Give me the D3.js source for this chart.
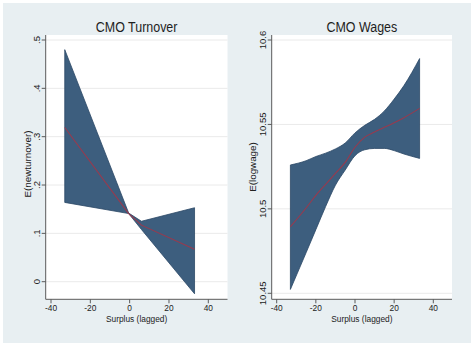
<!DOCTYPE html>
<html>
<head>
<meta charset="utf-8">
<script src="https://cdn.jsdelivr.net/npm/d3@7"></script>
<style>
  body { margin: 0; background: #fff; }
  svg { display: block; font-family: "Liberation Sans", Arial, sans-serif; }
</style>
</head>
<body>
<div id="chart"></div>
<script>
// ---- data ----
const turnoverX = [-33, -0.5, 6, 33];
const turnoverPred = [0.319, 0.141, 0.117, 0.067];
const turnoverLo = [0.164, 0.141, 0.108, -0.025];
const turnoverHi = [0.480, 0.142, 0.125, 0.153];
const turnoverTicks = [0, 0.1, 0.2, 0.3, 0.4, 0.5];
const turnoverTickLabels = ["0", ".1", ".2", ".3", ".4", ".5"];

const wageX = [-33, -25, -20, -15, -10, -5, 0, 5, 10, 15, 20, 25, 33];
const wagePred = [10.4894, 10.5005, 10.508, 10.5145, 10.521, 10.5275, 10.5365, 10.5425, 10.5455, 10.5483, 10.551, 10.554, 10.5595];
const wageLo = [10.4523, 10.474, 10.4877, 10.5014, 10.514, 10.523, 10.5315, 10.535, 10.5358, 10.5358, 10.5345, 10.5325, 10.5299];
const wageHi = [10.526, 10.5285, 10.531, 10.533, 10.5355, 10.539, 10.545, 10.5495, 10.553, 10.558, 10.565, 10.573, 10.589];
const wageTicks = [10.45, 10.5, 10.55, 10.6];
const wageTickLabels = ["10.45", "10.5", "10.55", "10.6"];

const xTicks = [-40, -20, 0, 20, 40];

const W = 474, H = 346;
const bandFill = "#3d5e7e";
const bandStroke = "#2b4866";
const predColor = "#983a4e";
const squeeze = 0.88; // picture is a bit narrower than tall

const svg = d3.select("#chart").append("svg")
    .attr("width", W)
    .attr("height", H);

// outer graph region
svg.append("rect")
    .attr("x", 3).attr("y", 3)
    .attr("width", W - 6).attr("height", H - 6)
    .attr("fill", "#e8eff2");

const panels = [
    {
        title: "CMO Turnover", yTitle: "E(newturnover)",
        left: 45.7, right: 227.5, top: 35, bottom: 299.3,
        xRange: [51, 208.3], yDomain: [0, 0.5], yRange: [281.7, 40],
        xs: turnoverX, pred: turnoverPred, lo: turnoverLo, hi: turnoverHi,
        yTicks: turnoverTicks, yLabels: turnoverTickLabels,
        yTitleX: 31, yTitleY: 164, curve: d3.curveLinear
    },
    {
        title: "CMO Wages", yTitle: "E(logwage)",
        left: 271.7, right: 452, top: 35, bottom: 299.3,
        xRange: [276.7, 433.3], yDomain: [10.45, 10.6], yRange: [293.3, 40],
        xs: wageX, pred: wagePred, lo: wageLo, hi: wageHi,
        yTicks: wageTicks, yLabels: wageTickLabels,
        yTitleX: 255.5, yTitleY: 167, curve: d3.curveMonotoneX
    }
];

panels.forEach(p => {
    const x = d3.scaleLinear().domain([-40, 40]).range(p.xRange);
    const y = d3.scaleLinear().domain(p.yDomain).range(p.yRange);
    const g = svg.append("g");

    // plot region
    g.append("rect")
        .attr("x", p.left).attr("y", p.top)
        .attr("width", p.right - p.left).attr("height", p.bottom - p.top)
        .attr("fill", "#fff");

    // gridlines
    g.selectAll(".grid")
        .data(p.yTicks)
        .join("line")
        .attr("x1", p.left).attr("x2", p.right)
        .attr("y1", d => y(d)).attr("y2", d => y(d))
        .attr("stroke", "#eaeaea")
        .attr("stroke-width", 1);

    // confidence band
    const pts = p.xs.map((v, i) => ({ x: v, lo: p.lo[i], hi: p.hi[i], m: p.pred[i] }));
    const area = d3.area()
        .x(d => x(d.x))
        .y0(d => y(d.lo))
        .y1(d => y(d.hi))
        .curve(p.curve);
    g.append("path")
        .datum(pts)
        .attr("d", area)
        .attr("fill", bandFill)
        .attr("stroke", bandStroke)
        .attr("stroke-width", 0.8);

    // predicted line
    const line = d3.line()
        .x(d => x(d.x))
        .y(d => y(d.m))
        .curve(p.curve);
    g.append("path")
        .datum(pts)
        .attr("d", line)
        .attr("fill", "none")
        .attr("stroke", predColor)
        .attr("stroke-width", 1.1);

    // axes
    const axisColor = "#5a5a5a";
    g.append("line")
        .attr("x1", p.left).attr("x2", p.left)
        .attr("y1", p.top).attr("y2", p.bottom)
        .attr("stroke", axisColor);
    g.append("line")
        .attr("x1", p.left).attr("x2", p.right)
        .attr("y1", p.bottom).attr("y2", p.bottom)
        .attr("stroke", axisColor);

    // x ticks
    g.selectAll(".xt")
        .data(xTicks)
        .join("line")
        .attr("x1", d => x(d)).attr("x2", d => x(d))
        .attr("y1", p.bottom).attr("y2", p.bottom + 4)
        .attr("stroke", axisColor);
    g.selectAll(".xl")
        .data(xTicks)
        .join("text")
        .attr("transform", d => `translate(${x(d)},${p.bottom + 12}) scale(${squeeze},1)`)
        .attr("text-anchor", "middle")
        .attr("font-size", "9.5px")
        .attr("fill", "#222")
        .text(d => d);

    // y ticks
    g.selectAll(".yt")
        .data(p.yTicks)
        .join("line")
        .attr("x1", p.left - 4).attr("x2", p.left)
        .attr("y1", d => y(d)).attr("y2", d => y(d))
        .attr("stroke", axisColor);
    g.selectAll(".yl")
        .data(p.yTicks)
        .join("text")
        .attr("transform", d => `translate(${p.left - 6},${y(d)}) scale(${squeeze},1) rotate(-90)`)
        .attr("text-anchor", "middle")
        .attr("font-size", "9.5px")
        .attr("fill", "#222")
        .text((d, i) => p.yLabels[i]);

    // titles
    g.append("text")
        .attr("transform", `translate(${(p.left + p.right) / 2},31.5) scale(0.89,1)`)
        .attr("text-anchor", "middle")
        .attr("font-size", "14px")
        .attr("fill", "#1e1e1e")
        .text(p.title);
    g.append("text")
        .attr("transform", `translate(${(p.left + p.right) / 2},322) scale(${squeeze},1)`)
        .attr("text-anchor", "middle")
        .attr("font-size", "9.5px")
        .attr("fill", "#222")
        .text("Surplus (lagged)");
    g.append("text")
        .attr("transform", `translate(${p.yTitleX},${p.yTitleY}) scale(${squeeze},1) rotate(-90)`)
        .attr("text-anchor", "middle")
        .attr("font-size", "9.8px")
        .attr("fill", "#222")
        .text(p.yTitle);
});
</script>
</body>
</html>
